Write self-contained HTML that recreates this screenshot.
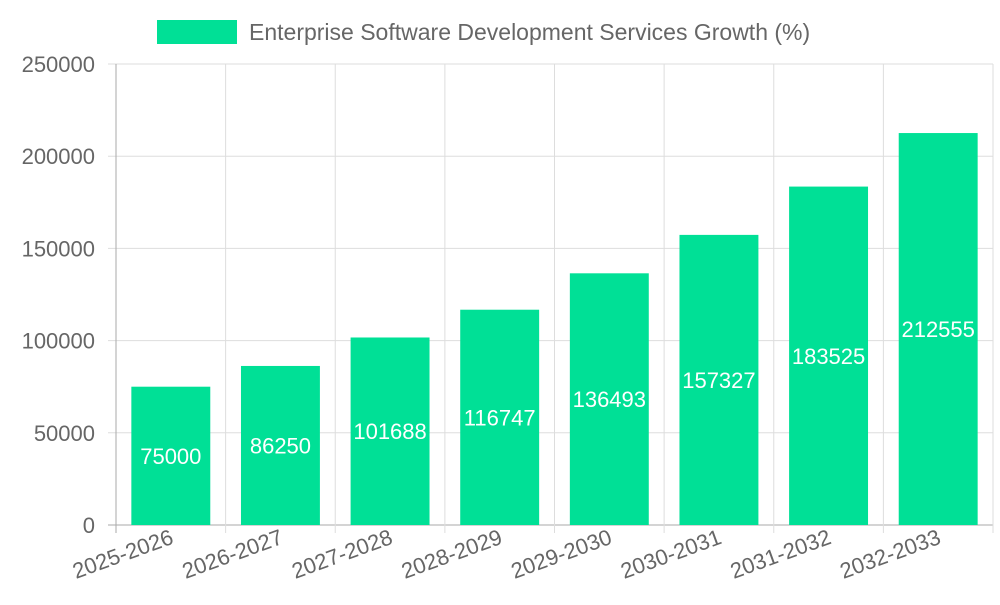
<!DOCTYPE html>
<html><head><meta charset="utf-8"><style>
body{margin:0;background:#fff;}
svg text{font-family:"Liberation Sans",sans-serif;}
</style></head><body>
<svg id="c" width="1000" height="600" xmlns="http://www.w3.org/2000/svg">
<rect x="157" y="20" width="80" height="24" fill="#00e096"/>
<text x="249" y="40" font-size="23" fill="#666">Enterprise Software Development Services Growth (%)</text>
<g id="grid"></g><g id="bars"></g><g id="labels"></g>
</svg>
<script>
const categories=["2025-2026","2026-2027","2027-2028","2028-2029","2029-2030","2030-2031","2031-2032","2032-2033"];
const values=[75000,86250,101688,116747,136493,157327,183525,212555];
const yTicks=[0,50000,100000,150000,200000,250000];
const L=116,R=993,T=64,B=525,yMax=250000;
const step=(R-L)/categories.length;
const y=v=>B-(v/yMax)*(B-T);
const x=i=>L+i*step;
const ns="http://www.w3.org/2000/svg";
function mk(t,a,p){const e=document.createElementNS(ns,t);for(const k in a)e.setAttribute(k,a[k]);p.appendChild(e);return e;}
const g=document.getElementById('grid'),bg=document.getElementById('bars'),lg=document.getElementById('labels');
yTicks.forEach(t=>{
 const l=mk('line',{x1:108,x2:R,y1:y(t),y2:y(t),stroke:t===0?'#aaa':'#ddd','stroke-width':1},g);
 
 
 const tx=mk('text',{x:95,y:y(t)+8,'text-anchor':'end','font-size':22,fill:'#666'},g);
 tx.textContent=t;
 
 
});
for(let i=0;i<=categories.length;i++){
 const l=mk('line',{x1:x(i),x2:x(i),y1:T,y2:B+8,stroke:i===0?'#aaa':'#ddd','stroke-width':1},g);
 
 
}
categories.forEach((c,i)=>{
 const bw=step*0.72,bx=x(i)+(step-bw)/2,by=y(values[i]);
 const r=mk('rect',{x:bx,y:by,width:bw,height:B-by,fill:'#00e096'},bg);
 
 
 const vt=mk('text',{x:x(i)+step/2,y:(by+B)/2+8,'text-anchor':'middle','font-size':22,fill:'#fff'},lg);
 vt.textContent=values[i];
 
 
 const cx=x(i)+step/2+4,cy=B+18;
 const xt=mk('text',{x:cx,y:cy,'text-anchor':'end','font-size':22,fill:'#666',transform:`rotate(-20 ${cx} ${cy})`},lg);
 xt.textContent=c;
 
 
});
</script>
</body></html>
